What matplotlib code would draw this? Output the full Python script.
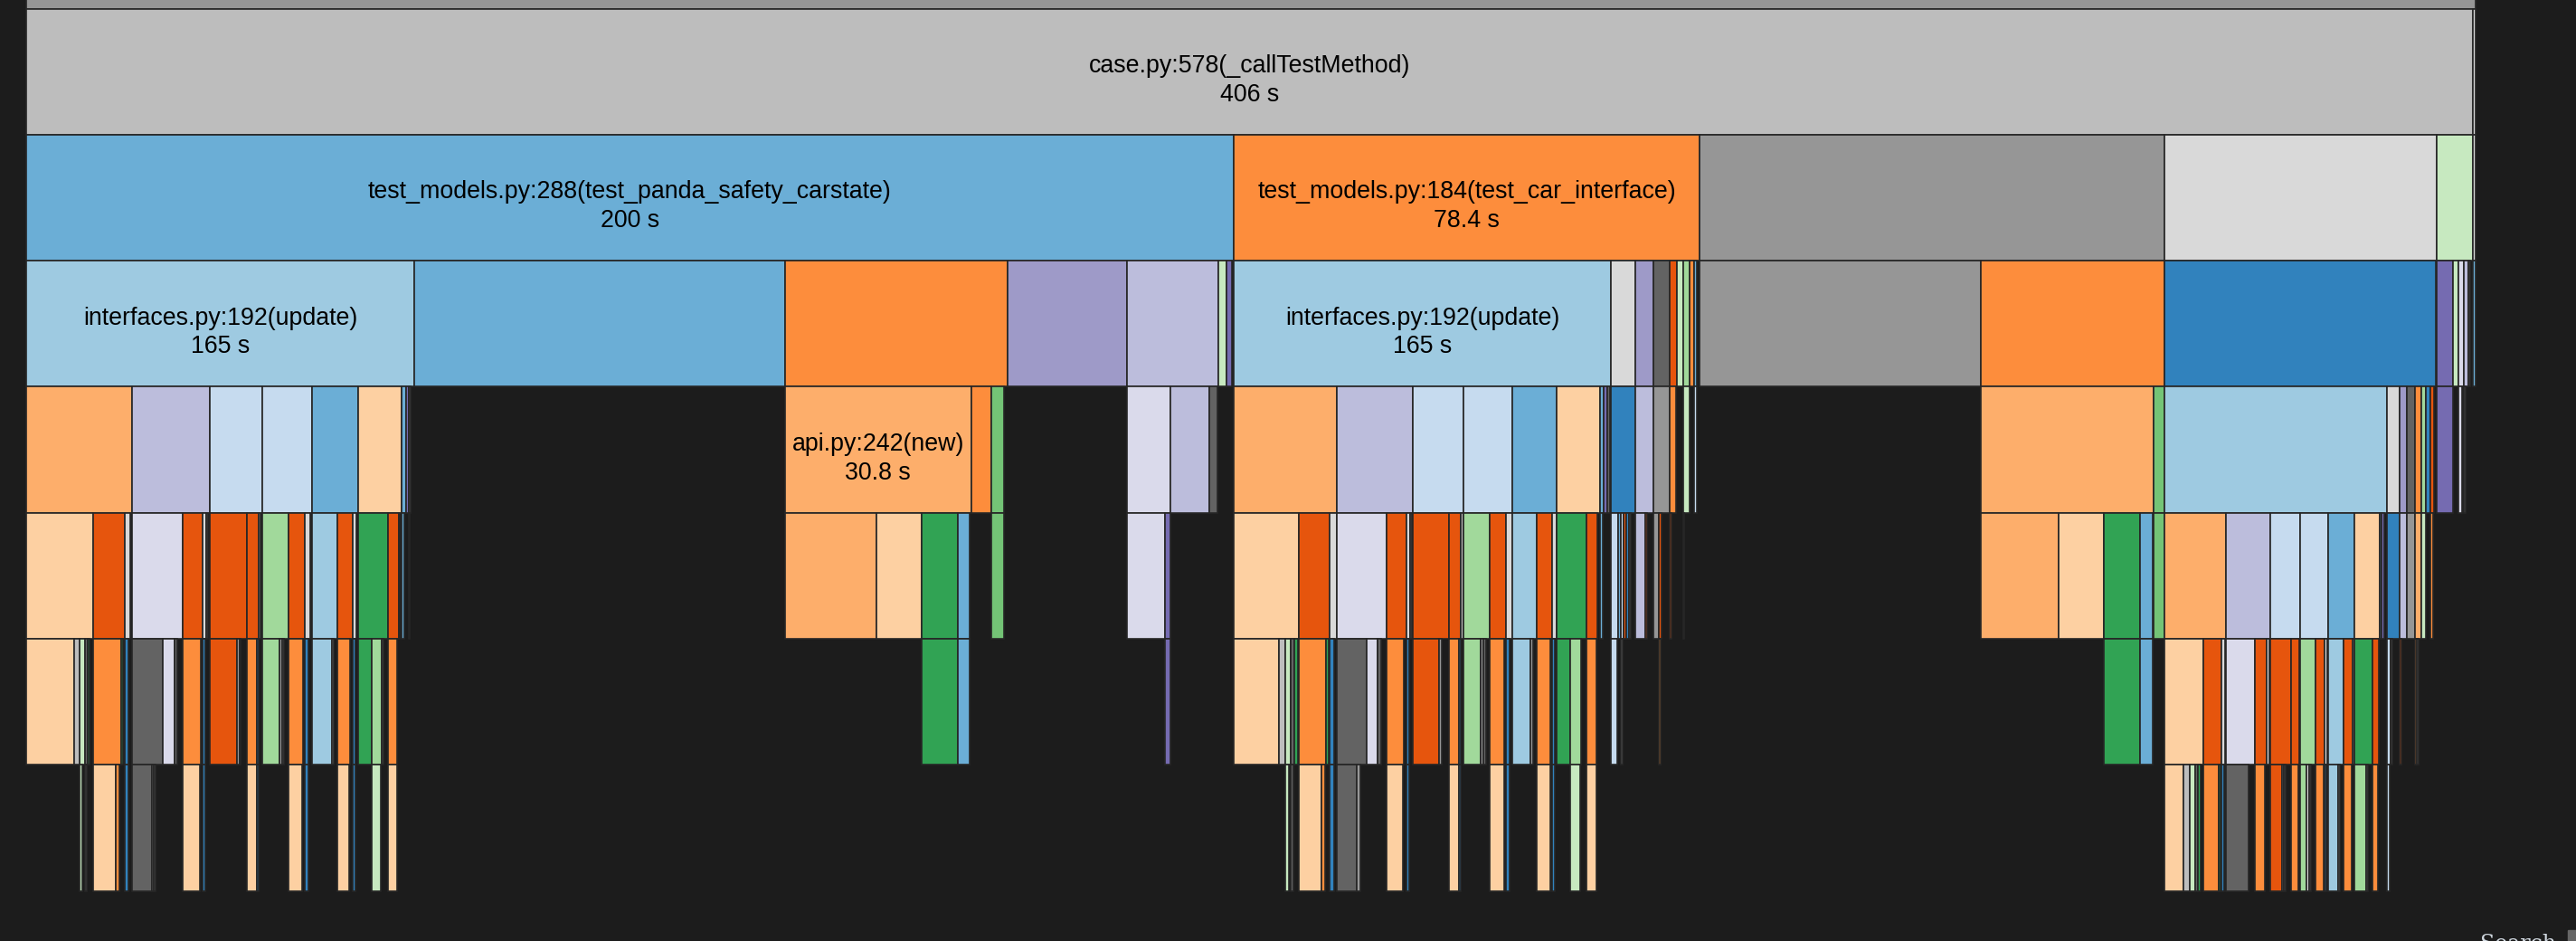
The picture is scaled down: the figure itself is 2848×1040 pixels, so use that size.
import matplotlib
matplotlib.use('Agg')
import matplotlib.pyplot as plt
from matplotlib.patches import Rectangle

# d3 category20c, as used by snakeviz
palette = {
    'b1': '#3182bd', 'b2': '#6baed6', 'b3': '#9ecae1', 'b4': '#c6dbef',
    'o1': '#e6550d', 'o2': '#fd8d3c', 'o3': '#fdae6b', 'o4': '#fdd0a2',
    'gr1': '#31a354', 'gr2': '#74c476', 'gr3': '#a1d99b', 'gr4': '#c7e9c0',
    'p1': '#756bb1', 'p2': '#9e9ac8', 'p3': '#bcbddc', 'p4': '#dadaeb',
    'g1': '#636363', 'g2': '#bdbdbd', 'g3': '#969696', 'g4': '#d9d9d9',
}

labels = [
    ('case.py:578(_callTestMethod)', '406 s'),
    ('test_models.py:288(test_panda_safety_carstate)', '200 s'),
    ('test_models.py:184(test_car_interface)', '78.4 s'),
    ('interfaces.py:192(update)', '165 s'),
    ('api.py:242(new)', '30.8 s'),
]

# call tree in depth-first order: (depth, seconds, colour[, label])
top_calls = [
    (0, 406.4, 'g3'),
    (1, 406.0, 'g2', 0),
    (2, 200.3, 'b2', 1),
]

panda_update = [
    (3, 64.4, 'b3', 3),
    (4, 17.6, 'o3'),
    (5, 11.1, 'o4'),
    (6, 7.9, 'o4'), (6, 1.0, 'g2'), (6, 0.9, 'gr4'), (7, 0.4, 'gr4'),
    (6, 0.4, 'g1'), (7, 0.3, 'g1'), (6, 0.3, 'gr1'),
    (5, 5.2, 'o1'),
    (6, 4.6, 'o2'), (7, 3.8, 'o4'), (7, 0.6, 'o2'), (6, 0.4, 'gr1'),
    (5, 1.0, 'g4'), (6, 0.6, 'b1'), (7, 0.6, 'b1'),
    (4, 12.9, 'p3'),
    (5, 8.4, 'p4'),
    (6, 5.0, 'g1'), (7, 3.3, 'g1'), (7, 0.3, 'g3'), (7, 0.2, 'g1'),
    (6, 2.0, 'p4'), (6, 0.5, 'g1'),
    (5, 3.3, 'o1'), (6, 2.9, 'o2'), (7, 2.8, 'o4'),
    (5, 0.6, 'g4'), (6, 0.4, 'b1'), (7, 0.4, 'b1'),
    (5, 0.3, 'g1'),
    (4, 8.7, 'b4'),
    (5, 6.1, 'o1'), (6, 4.5, 'o1'), (6, 0.4, 'g3'), (6, 0.2, 'g1'),
    (5, 1.9, 'o1'), (6, 1.7, 'o2'), (7, 1.6, 'o4'), (6, 0.2, 'b1'), (7, 0.2, 'b1'),
    (5, 0.4, 'g2'),
    (4, 8.3, 'b4'),
    (5, 4.3, 'gr3'), (6, 2.8, 'gr3'), (6, 0.4, 'g3'), (6, 0.3, 'g1'),
    (5, 2.7, 'o1'), (6, 2.5, 'o2'), (7, 2.3, 'o4'),
    (5, 0.9, 'g4'), (6, 0.6, 'b1'), (7, 0.6, 'b1'),
    (4, 7.6, 'b2'),
    (5, 4.1, 'b3'), (6, 3.2, 'b3'), (6, 0.3, 'g3'),
    (5, 2.6, 'o1'), (6, 2.2, 'o2'), (7, 2.0, 'o4'),
    (5, 0.6, 'g4'), (6, 0.4, 'b1'), (7, 0.4, 'b1'),
    (4, 7.2, 'o4'),
    (5, 5.0, 'gr1'), (6, 2.3, 'gr1'), (6, 1.6, 'gr3'), (7, 1.5, 'gr4'), (6, 0.3, 'g1'),
    (5, 1.7, 'o1'), (6, 1.5, 'o2'), (7, 1.5, 'o4'),
    (5, 0.2, 'b2'),
    (4, 0.7, 'b2'), (5, 0.5, 'b2'),
    (4, 0.5, 'p1'),
    (4, 0.3, 'g1'), (5, 0.2, 'g1'),
]

panda_rest = [
    (3, 61.5, 'b2'),
    (3, 36.9, 'o2'),
    (4, 30.9, 'o3', 4),
    (5, 15.2, 'o3'), (5, 7.5, 'o4'),
    (5, 6.0, 'gr1'), (6, 6.0, 'gr1'),
    (5, 2.0, 'b2'), (6, 2.0, 'b2'),
    (4, 3.3, 'o2'),
    (4, 2.1, 'gr2'), (5, 2.1, 'gr2'),
    (3, 19.8, 'p2'),
    (3, 15.2, 'p3'),
    (4, 7.3, 'p4'), (5, 6.4, 'p4'), (5, 0.9, 'p1'), (6, 0.9, 'p1'),
    (4, 6.4, 'p3'),
    (4, 1.4, 'g1'),
    (3, 1.4, 'gr4'),
    (3, 0.8, 'p1'),
]

car_call = [
    (2, 77.4, 'o2', 2),
]

car_update = [
    (3, 62.7, 'b3', 3),
    (4, 17.2, 'o3'),
    (5, 10.9, 'o4'),
    (6, 7.6, 'o4'), (6, 1.05, 'g2'), (6, 0.9, 'gr4'), (7, 0.6, 'gr4'),
    (6, 0.5, 'g1'), (7, 0.4, 'g1'), (6, 0.6, 'gr1'),
    (5, 5.0, 'o1'),
    (6, 4.5, 'o2'), (7, 3.75, 'o4'), (7, 0.6, 'o2'), (6, 0.45, 'gr1'),
    (5, 1.2, 'g4'), (6, 0.75, 'b1'), (7, 0.75, 'b1'),
    (4, 12.6, 'p3'),
    (5, 8.25, 'p4'),
    (6, 4.95, 'g1'), (7, 3.3, 'g1'), (7, 0.6, 'g3'),
    (6, 1.8, 'p4'), (6, 0.6, 'g1'),
    (5, 3.3, 'o1'), (6, 2.85, 'o2'), (7, 2.7, 'o4'),
    (5, 0.6, 'g4'), (6, 0.45, 'b1'), (7, 0.45, 'b1'),
    (5, 0.35, 'g1'),
    (4, 8.4, 'b4'),
    (5, 6.0, 'o1'), (6, 4.35, 'o1'), (6, 0.45, 'g3'),
    (5, 1.95, 'o1'), (6, 1.65, 'o2'), (7, 1.6, 'o4'), (6, 0.3, 'b1'), (7, 0.3, 'b1'),
    (5, 0.45, 'g2'),
    (4, 8.1, 'b4'),
    (5, 4.35, 'gr3'), (6, 2.85, 'gr3'), (6, 0.45, 'g3'), (6, 0.45, 'g1'),
    (5, 2.7, 'o1'), (6, 2.4, 'o2'), (7, 2.4, 'o4'),
    (5, 1.05, 'g4'), (6, 0.6, 'b1'), (7, 0.6, 'b1'),
    (4, 7.4, 'b2'),
    (5, 4.05, 'b3'), (6, 3.0, 'b3'), (6, 0.45, 'g3'),
    (5, 2.55, 'o1'), (6, 2.25, 'o2'), (7, 2.25, 'o4'),
    (5, 0.75, 'g4'), (6, 0.45, 'b1'), (7, 0.45, 'b1'),
    (4, 7.1, 'o4'),
    (5, 4.95, 'gr1'), (6, 2.2, 'gr1'), (6, 1.8, 'gr3'), (7, 1.7, 'gr4'),
    (5, 1.7, 'o1'), (6, 1.6, 'o2'), (7, 1.6, 'o4'),
    (4, 0.6, 'b2'), (5, 0.5, 'b2'),
    (4, 0.6, 'p1'),
    (4, 0.5, 'g1'),
]

car_rest = [
    (3, 4.05, 'g4'),
    (4, 4.0, 'b1'),
    (5, 1.1, 'b4'), (6, 1.0, 'b4'),
    (5, 0.5, 'b2'),
    (5, 0.5, 'b4'), (6, 0.35, 'g3'),
    (5, 0.45, 'o1'), (5, 0.35, 'b1'), (5, 0.3, 'g1'),
    (3, 3.0, 'p2'),
    (4, 2.9, 'p3'), (5, 1.55, 'p3'), (5, 0.3, 'o1'),
    (3, 2.7, 'g1'),
    (4, 2.6, 'g3'), (5, 0.8, 'g3'), (5, 0.45, 'o1'), (6, 0.3, 'o2'),
    (3, 1.1, 'o1'),
    (4, 1.05, 'o2'), (5, 0.3, 'o1'),
    (3, 1.05, 'gr4'),
    (3, 1.1, 'gr3'),
    (4, 1.05, 'gr4'), (5, 0.2, 'g1'),
    (3, 0.8, 'o2'),
    (3, 0.45, 'b2'),
    (4, 0.4, 'b4'),
]

gray_branch = [
    (2, 77.1, 'g3'),
    (3, 46.6, 'g3'),
    (3, 30.5, 'o2'),
    (4, 28.7, 'o3'),
    (5, 12.9, 'o3'), (5, 7.5, 'o4'),
    (5, 6.0, 'gr1'), (6, 6.0, 'gr1'),
    (5, 2.2, 'b2'), (6, 2.2, 'b2'),
    (4, 1.85, 'gr2'), (5, 1.85, 'gr2'),
]

blue_branch = [
    (2, 45.2, 'g4'),
    (3, 45.0, 'b1'),
    (4, 36.9, 'b3'),
    (5, 10.2, 'o3'),
    (6, 6.4, 'o4'),
    (7, 3.15, 'o4'), (7, 1.0, 'g2'), (7, 1.0, 'gr4'), (7, 0.35, 'g1'), (7, 0.45, 'gr1'),
    (6, 3.0, 'o1'), (7, 2.6, 'o2'), (7, 0.3, 'gr1'),
    (6, 0.7, 'g4'), (7, 0.5, 'b1'),
    (5, 7.35, 'p3'),
    (6, 4.8, 'p4'), (7, 3.8, 'g1'),
    (6, 1.9, 'o1'), (7, 1.65, 'o2'),
    (6, 0.5, 'g4'),
    (5, 4.9, 'b4'),
    (6, 3.45, 'o1'), (7, 2.0, 'o1'), (7, 0.3, 'g3'), (7, 0.3, 'g1'),
    (6, 1.3, 'o1'), (7, 1.2, 'o2'),
    (5, 4.75, 'b4'),
    (6, 2.6, 'gr3'), (7, 1.1, 'gr3'), (7, 0.45, 'g4'), (7, 0.3, 'g1'),
    (6, 1.55, 'o1'), (7, 1.4, 'o2'),
    (6, 0.45, 'g4'), (7, 0.3, 'b1'),
    (5, 4.35, 'b2'),
    (6, 2.45, 'b3'), (7, 1.55, 'b3'), (7, 0.3, 'g3'),
    (6, 1.55, 'o1'), (7, 1.35, 'o2'),
    (6, 0.3, 'g4'),
    (5, 4.1, 'o4'),
    (6, 3.0, 'gr1'), (7, 1.9, 'gr3'), (7, 0.3, 'g1'),
    (6, 1.05, 'o1'), (7, 0.9, 'o2'),
    (5, 0.4, 'b2'),
    (5, 0.4, 'p1'),
    (4, 2.1, 'g4'),
    (5, 2.1, 'b1'), (6, 0.6, 'b4'), (7, 0.5, 'b4'), (6, 0.3, 'g1'),
    (4, 1.2, 'p2'),
    (5, 1.2, 'p3'), (6, 0.3, 'o1'),
    (4, 1.35, 'g1'),
    (5, 1.35, 'g3'),
    (4, 1.05, 'o2'),
    (5, 1.0, 'o3'), (6, 0.3, 'o2'), (6, 0.3, 'g1'),
    (4, 0.75, 'gr3'), (5, 0.75, 'gr4'),
    (4, 0.75, 'b1'),
    (4, 0.6, 'o1'), (5, 0.5, 'o2'),
]

green_branch = [
    (2, 5.9, 'gr4'),
    (3, 2.7, 'p1'), (4, 2.7, 'p1'),
    (3, 0.9, 'gr4'),
    (3, 0.8, 'p4'), (4, 0.5, 'p4'),
    (3, 0.8, 'p3'), (4, 0.3, 'g1'),
    (3, 0.3, 'g1'),
]

sliver = [
    (1, 0.4, 'g4'),
    (2, 0.4, 'g4'),
    (3, 0.4, 'b2'),
]

nodes = (top_calls + panda_update + panda_rest + car_call + car_update
         + car_rest + gray_branch + blue_branch + green_branch + sliver)

# icicle layout: children start at the left edge of their parent
cursor = {0: 0.0}
lefts, depths, widths, colors, texts = [], [], [], [], []
for node in nodes:
    d, w, c = node[:3]
    x = cursor.get(d, 0.0)
    lefts.append(x)
    depths.append(d)
    widths.append(w)
    colors.append(palette[c])
    if len(node) > 3:
        texts.append((x + w / 2, d, labels[node[3]]))
    cursor[d] = x + w
    cursor[d + 1] = x

bg = '#1c1c1c'
fig = plt.figure(figsize=(28.48, 10.40), dpi=100, facecolor=bg)
ax = fig.add_axes([0, 0, 1, 1])
ax.set_facecolor(bg)

ax.barh([d + 0.5 for d in depths], widths, left=lefts, height=1.0,
        color=colors, edgecolor='#262626', linewidth=1.2)

for cx, d, (name, total) in texts:
    ax.text(cx, d + 0.507, name, ha='center', va='baseline',
            fontsize=19.3, family='Liberation Sans', color='black')
    ax.text(cx, d + 0.735, total, ha='center', va='baseline',
            fontsize=19.3, family='Liberation Sans', color='black')

ax.set_xlim(-4.352, 423.08)
ax.set_ylim(8.3977, 0.9318)
ax.axis('off')

# search box at the bottom right, mostly scrolled out of view
fig.text(2742 / 2848, -0.0096, 'Search', color='#d0d8e0', fontsize=17,
         family='DejaVu Serif', ha='left', va='baseline')
fig.patches.append(Rectangle((2839 / 2848, 0), 9 / 2848, 12 / 1040,
                             transform=fig.transFigure, color='#666666'))

fig.savefig('out.png', dpi=100, facecolor=bg)
